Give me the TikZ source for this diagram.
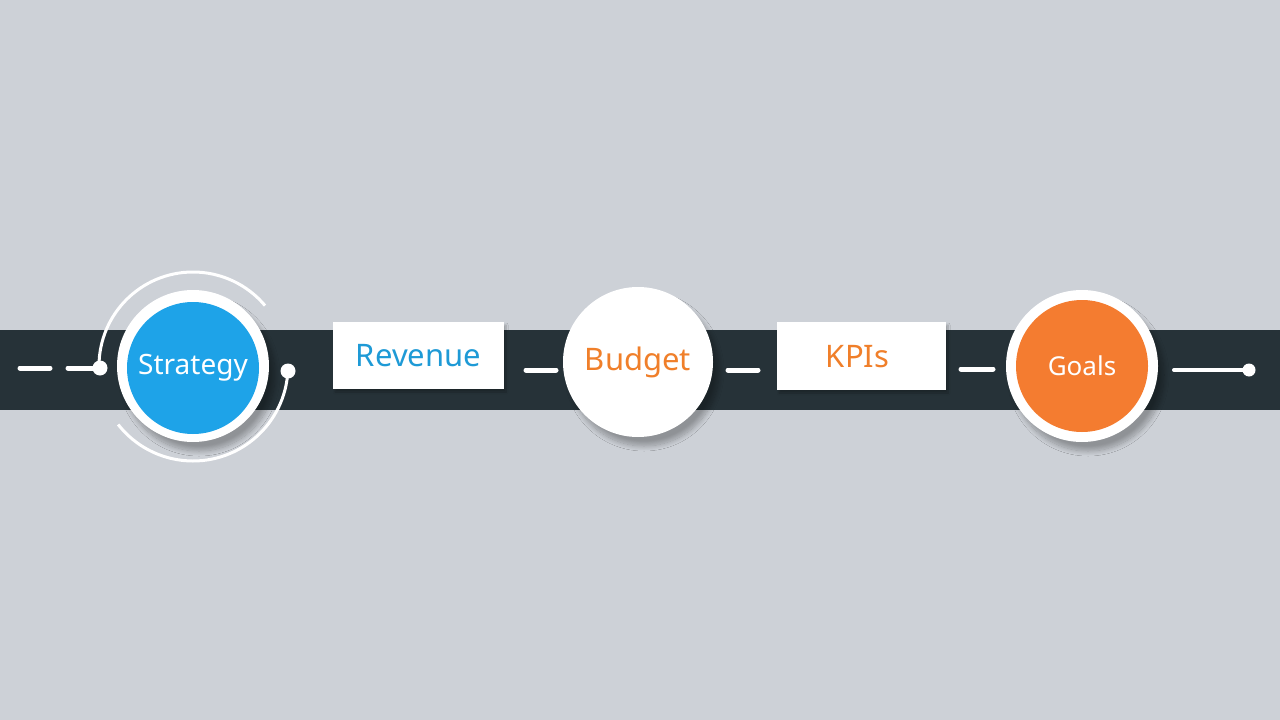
\documentclass[tikz,border=0pt]{standalone}
\usepackage{fontspec}
\setmainfont{Noto Sans}
\usetikzlibrary{shadows.blur,calc}
\definecolor{bg}{HTML}{CDD1D7}
\definecolor{band}{HTML}{263238}
\definecolor{sblue}{HTML}{1EA3E8}
\definecolor{tblue}{HTML}{1E9AD6}
\definecolor{torange}{HTML}{F07F2A}
\definecolor{gorange}{HTML}{F47C30}
\tikzset{
  ring/.style={circle, fill=white, minimum size=152pt, inner sep=0pt,
    blur shadow={shadow xshift=6pt, shadow yshift=-9pt, shadow blur radius=5pt, shadow blur steps=14, shadow opacity=30}},
  core/.style={circle, minimum size=132pt, inner sep=0pt},
  card/.style={rectangle, fill=white, inner sep=0pt,
    blur shadow={shadow xshift=2pt, shadow yshift=-3pt, shadow blur radius=2pt, shadow blur steps=8, shadow opacity=25}},
  dashln/.style={white, line width=5pt, line cap=round},
  arcln/.style={white, line width=3pt},
  knob/.style={circle, fill=white, minimum size=15pt, inner sep=0pt},
}
\begin{document}
\begin{tikzpicture}[x=1pt,y=-1pt]
\fill[bg] (0,0) rectangle (1280,720);
\useasboundingbox (0,0) rectangle (1280,720);
\fill[band] (0,330) rectangle (1280,410);

% Strategy
\node[ring] (sring) at (193,366) {};
\node[core, fill=sblue, text=white, font=\fontsize{28}{30}\selectfont] (strategy) at (193,368) {Strategy};
\draw[arcln] ($(sring.center)+(180:94)$) arc[start angle=180, end angle=320, radius=94];
\draw[arcln] ($(sring.center)+(3:95)$) arc[start angle=3, end angle=142, radius=95];
\node[knob] (k1) at (100,368) {};
\node[knob] (k2) at (288,371) {};
\coordinate (l1) at (20,368);
\coordinate (l2) at (50,368);
\coordinate (l3) at (68,368);
\draw[dashln] (l1) -- (l2);
\draw[dashln] (l3) -- (k1);

% Revenue
\node[card, minimum width=171pt, minimum height=67pt, text=tblue, font=\fontsize{31}{33}\selectfont] (rev) at (418.5,355.5) {Revenue};
\coordinate (r1) at (526,370);
\coordinate (r2) at (556,370);
\draw[dashln] (r1) -- (r2);

% Budget
\node[ring, minimum size=150pt, text=torange, font=\fontsize{31}{33}\selectfont] (budget) at (638,362) {Budget};
\coordinate (b1) at (728,370);
\coordinate (b2) at (758,370);
\draw[dashln] (b1) -- (b2);

% KPIs
\node[card, minimum width=169pt, minimum height=68pt, text=torange, font=\fontsize{31}{33}\selectfont, text depth=0pt] (kpis) at (861.5,356) {KPIs\hspace*{8pt}};
\coordinate (p1) at (961,369);
\coordinate (p2) at (993,369);
\draw[dashln] (p1) -- (p2);

% Goals
\node[ring] (gring) at (1082,366) {};
\node[core, fill=gorange, text=white, font=\fontsize{26}{28}\selectfont] (goals) at (1082,366) {Goals};
\coordinate (g1) at (1174,370);
\node[knob, minimum size=13pt] (gend) at (1249,370) {};
\draw[white, line width=4pt, line cap=round] (g1) -- (gend.center);
\end{tikzpicture}
\end{document}
